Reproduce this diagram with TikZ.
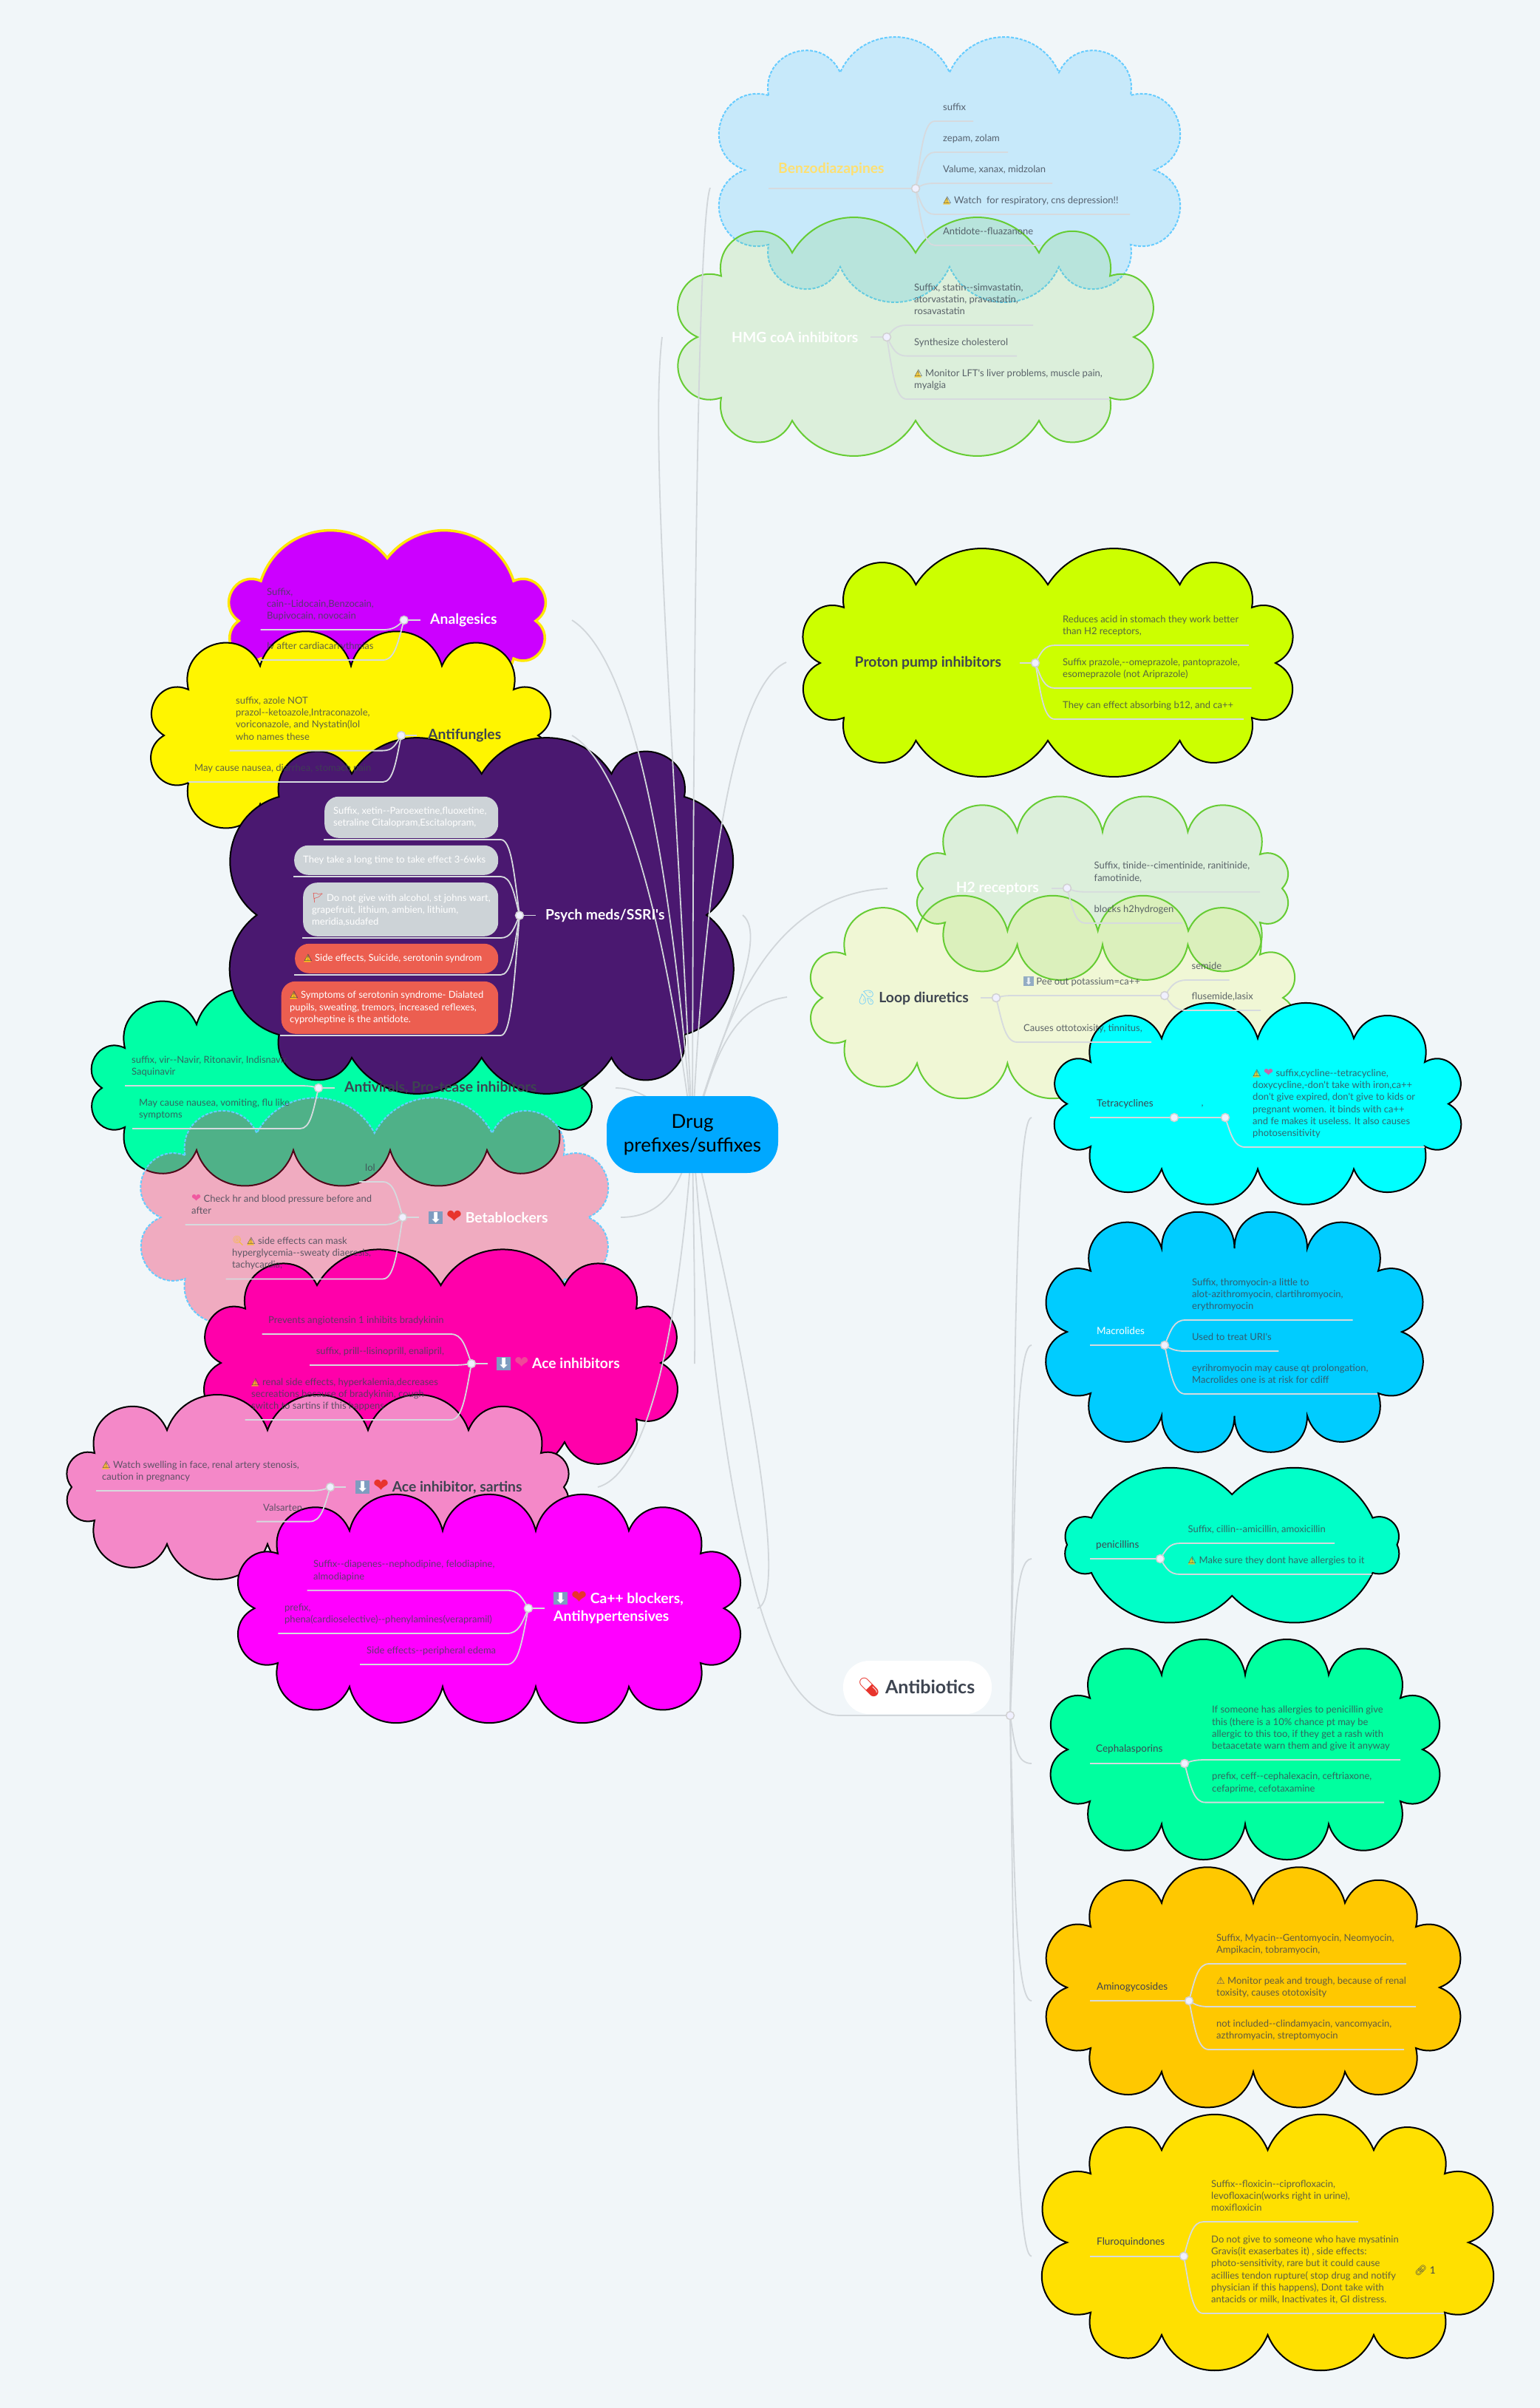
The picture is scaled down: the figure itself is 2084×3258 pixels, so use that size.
\documentclass[tikz,border=0pt]{standalone}
\usepackage{fontspec}
\usetikzlibrary{calc}
\setmainfont{Lato}
\newfontfamily\basef{Lato}
\newfontfamily\emo{Noto Emoji}
\newfontfamily\djv{DejaVu Sans}
\definecolor{bgc}{HTML}{F1F6F9}
\definecolor{dk}{HTML}{3D4450}
\definecolor{warnc}{HTML}{F9C21A}
\definecolor{heartc}{HTML}{E8342C}
\definecolor{pinkh}{HTML}{F0479A}
\definecolor{arrowc}{HTML}{7F9CC0}
\definecolor{wirec}{HTML}{D1D6DA}
\definecolor{rulec}{HTML}{D6DADE}
\definecolor{grn}{HTML}{66CC33}
\definecolor{sky}{HTML}{66CCFF}
\definecolor{cPurple}{HTML}{CC00FF}
\definecolor{cYellowEdge}{HTML}{FFE600}
\definecolor{cYellow}{HTML}{FFF500}
\definecolor{cPsych}{HTML}{4A1870}
\definecolor{cVir}{HTML}{00FFA6}
\definecolor{cBeta}{HTML}{F0154C}
\definecolor{cAce}{HTML}{FF00AA}
\definecolor{cSart}{HTML}{F488C8}
\definecolor{cCa}{HTML}{FF00FF}
\definecolor{cProton}{HTML}{CCFF00}
\definecolor{cLoop}{HTML}{F0F7D5}
\definecolor{cCyan}{HTML}{00FFFF}
\definecolor{cMacro}{HTML}{00CCFF}
\definecolor{cPen}{HTML}{00FFC8}
\definecolor{cCeph}{HTML}{00FF9F}
\definecolor{cAmino}{HTML}{FFC800}
\definecolor{cFluoro}{HTML}{FFE000}
\definecolor{cRoot}{HTML}{00A8FF}
\definecolor{cGreyBox}{HTML}{CDD3D7}
\definecolor{cRedBox}{HTML}{EC5E50}
\definecolor{cBenzoT}{HTML}{FFE070}
\newcommand\warnI{{\djv\makebox[0pt][l]{\textcolor{warnc}{▲}}\textcolor{dk}{⚠}}}
\newcommand\heartI{{\djv\fontsize{1.3em}{1em}\selectfont\textcolor{heartc}{❤}}}
\newcommand\pheartI{{\djv\fontsize{1.2em}{1em}\selectfont\textcolor{pinkh}{❤}}}
\newcommand\dnI{{\setlength{\fboxsep}{1.5pt}\colorbox{arrowc}{\djv\textcolor{white}{⬇}}}}
\newcommand\flagI{{\emo\textcolor{heartc}{🚩}}}
\newcommand\sparkI{{\djv\fontsize{1.2em}{1em}\selectfont\textcolor{pinkh}{❤}}}
\newcommand\lollyI{{\emo\textcolor{warnc}{🍭}}}
\newcommand\dropI{{\emo\textcolor{sky}{💦}}}
\newcommand\pillI{{\emo\textcolor{heartc}{💊}}}
\newcommand\linkI{{\emo 🔗}}
% one lobe of a cloud, from (#1,#2) to (#3,#4), sagitta ratio #5
\def\seg#1#2#3#4#5{.. controls ({#1+(1-4*#5*#5)/3*(#3-#1)+4/3*#5*(#4-#2)},{#2+(1-4*#5*#5)/3*(#4-#2)-4/3*#5*(#3-#1)}) and ({#3-(1-4*#5*#5)/3*(#3-#1)+4/3*#5*(#4-#2)},{#4-(1-4*#5*#5)/3*(#4-#2)-4/3*#5*(#3-#1)}) .. (#3,#4)}
\def\parsegeo#1,#2,#3,#4,#5,#6,#7,#8,#9\relax{\def\gL{#1}\def\gR{#2}\def\gT{#3}\def\gU{#4}\def\gM{#5}\def\gD{#6}\def\gB{#7}\def\gS{#8}\def\gE{#9}}
\def\parser#1,#2,#3\relax{\def\rMid{#1}\def\rEnd{#2}\def\rSide{#3}}
% four lobes (or two, when the end lobes take half the width) along top and bottom
\newcommand\cloud[3]{\parsegeo#2\relax\parser#3\relax
 \pgfmathsetmacro\cA{\gL+\gE}\pgfmathsetmacro\cC{\gR-\gE}\pgfmathsetmacro\cB{(\gL+\gR)/2}
 \pgfmathsetmacro\sL{\gL-\gS}\pgfmathsetmacro\sR{\gR+\gS}
 \begin{pgfonlayer}{clouds}
 \draw[#1] (\gL,\gU) \seg{\gL}{\gU}{\cA}{\gT}{\rEnd} \seg{\cA}{\gT}{\cB}{\gT}{\rMid} \seg{\cB}{\gT}{\cC}{\gT}{\rMid} \seg{\cC}{\gT}{\gR}{\gU}{\rEnd}
  \seg{\gR}{\gU}{\sR}{\gM}{\rSide} \seg{\sR}{\gM}{\gR}{\gD}{\rSide}
  \seg{\gR}{\gD}{\cC}{\gB}{\rEnd} \seg{\cC}{\gB}{\cB}{\gB}{\rMid} \seg{\cB}{\gB}{\cA}{\gB}{\rMid} \seg{\cA}{\gB}{\gL}{\gD}{\rEnd}
  \seg{\gL}{\gD}{\sL}{\gM}{\rSide} \seg{\sL}{\gM}{\gL}{\gU}{\rSide} -- cycle;
 \end{pgfonlayer}}
% five lobes along top and bottom
\newcommand\cloudfive[3]{\parsegeo#2\relax\parser#3\relax
 \pgfmathsetmacro\cA{\gL+\gE}\pgfmathsetmacro\cC{\gR-\gE}\pgfmathsetmacro\cB{\cA+(\cC-\cA)/3}\pgfmathsetmacro\cD{\cA+2*(\cC-\cA)/3}
 \pgfmathsetmacro\sL{\gL-\gS}\pgfmathsetmacro\sR{\gR+\gS}
 \begin{pgfonlayer}{clouds}
 \draw[#1] (\gL,\gU) \seg{\gL}{\gU}{\cA}{\gT}{\rEnd} \seg{\cA}{\gT}{\cB}{\gT}{\rMid} \seg{\cB}{\gT}{\cD}{\gT}{\rMid} \seg{\cD}{\gT}{\cC}{\gT}{\rMid} \seg{\cC}{\gT}{\gR}{\gU}{\rEnd}
  \seg{\gR}{\gU}{\sR}{\gM}{\rSide} \seg{\sR}{\gM}{\gR}{\gD}{\rSide}
  \seg{\gR}{\gD}{\cC}{\gB}{\rEnd} \seg{\cC}{\gB}{\cD}{\gB}{\rMid} \seg{\cD}{\gB}{\cB}{\gB}{\rMid} \seg{\cB}{\gB}{\cA}{\gB}{\rMid} \seg{\cA}{\gB}{\gL}{\gD}{\rEnd}
  \seg{\gL}{\gD}{\sL}{\gM}{\rSide} \seg{\sL}{\gM}{\gL}{\gU}{\rSide} -- cycle;
 \end{pgfonlayer}}
\newcommand\hub[3]{\node[hubdot] (#1) at (#2,#3) {};}
\newcommand\wire[2]{\begin{pgfonlayer}{lines}\draw[rulel] let \p1=(#1),\p2=(#2-s) in (\p1) .. controls ({\x1+.3*(\x2-\x1)},{\y1+.6*(\y2-\y1)}) and ({\x1+.45*(\x2-\x1)},\y2) .. (\p2) -- (#2-e);\end{pgfonlayer}}
% leaf: name, hub, x near hub, x far end, rule y, text x, text
\newcommand\leaf[7]{\coordinate (#1-s) at (#3,#5);\coordinate (#1-e) at (#4,#5);
 \node[leaftxt,anchor=south west] (#1) at (#6,{#5-9.5}) {#7\strut};
 \wire{#2}{#1}}
% boxed leaf: name, hub, box left, far rule end, box top, box bottom, text x, fill, text
\newcommand\boxleaf[9]{\coordinate (#1-s) at (677.5,{#6+2});\coordinate (#1-e) at (#4,{#6+2});
 \pgfmathsetmacro\bw{674-#3}\pgfmathsetmacro\bh{#6-#5}\pgfmathsetmacro\bm{(#5+#6)/2}
 \node[boxn,fill=#8,minimum width=\bw pt,minimum height=\bh pt,anchor=south west] (#1-b) at (#3,#6) {};
 \node[leaftxt,text=white,text opacity=1,anchor=west] (#1) at (#7,\bm) {#9};
 \wire{#2}{#1}}
\newcommand\ttl[6][anchor=west]{\node[#1,#2] (#3) at (#4,#5) {#6};}
\newcommand\stub[3]{\coordinate (#1-stub) at (#2,#3);\begin{pgfonlayer}{lines}\draw[rulel] (#1-stub) -- (#1);\end{pgfonlayer}}
\newcommand\rootlink[4]{\coordinate (#1) at (#4);\begin{pgfonlayer}{lines}\draw[wire] (root.center) .. controls (#2) and (#3) .. (#1);\end{pgfonlayer}}
\newcommand\trunk[2]{\coordinate (#1) at (1396,#2);\pgfmathsetmacro\ca{2321+.6*(#2-2321)}\begin{pgfonlayer}{lines}\draw[wire] (abhub.center) .. controls (1373,\ca) and (1375,#2) .. (#1);\end{pgfonlayer}}
\pgfdeclarelayer{clouds}\pgfdeclarelayer{lines}\pgfsetlayers{clouds,lines,main}
\tikzset{
 cl/.style={line width=2pt,draw=black,fill=#1},
 grc/.style={draw=grn,line width=2pt,fill=grn,fill opacity=.15},
 hubdot/.style={circle,fill=white!94!blue,draw=white!82!black,line width=1.5pt,minimum size=11pt,inner sep=0pt},
 rulel/.style={draw=rulec,line width=1.8pt},
 wire/.style={draw=wirec,line width=1.8pt},
 boxn/.style={inner sep=0pt,rounded corners=19pt},
 leaftxt/.style={inner sep=0pt,align=left,text=dk,text opacity=.82,font=\basef\fontsize{13}{16.2}\selectfont},
 tb/.style={font=\basef\fontsize{19.3}{24}\selectfont\bfseries,inner sep=0pt,align=left,text=#1},
 tb/.default=dk,
 tn/.style={font=\basef\fontsize{13.5}{16}\selectfont,inner sep=0pt,text=#1},
 tn/.default=dk,
 dashc/.style={draw=sky,line width=2pt,dash pattern=on 4pt off 2pt},
}
\begin{document}
\begin{tikzpicture}[x=1pt,y=-1pt]
\begin{pgfonlayer}{clouds}\fill[bgc] (0,0) rectangle (2084,3258);\end{pgfonlayer}
\useasboundingbox (0,0) rectangle (2084,3258);
% ---- clouds, back to front
\cloud{dashc,fill=sky,fill opacity=.3}{1040,1530,98,129,230,331,361,32,97}{.324,.44,.48}
\cloud{grc}{976,1502,342,373.5,456,538,569,32,96}{.287,.44,.48}
\cloud{cl=cProton}{1142,1694,791,822,897,971,1002,32,97.4}{.274,.44,.48}
\cloudfive{draw=grn,line width=2pt,fill=cLoop}{1144,1705,1259.5,1291.6,1350,1408,1438.5,31,97}{.39,.46,.47}
\cloud{grc}{1279,1705,1125.4,1156,1202,1248,1278,30,97.6}{.415,.5,.4}
\cloud{draw=cYellowEdge,line width=3.5pt,fill=cPurple}{353,695,755,786,840,891,925,30,171}{.3,.3,.45}
\cloud{cl=cYellow}{255,695,901,933,995,1059,1088,33,97}{.38,.46,.47}
\cloudfive{cl=cVir}{169,756,1386,1418,1472,1525,1556,31,97}{.37,.46,.47}
\cloud{cl=cPsych}{377.5,926,1047,1078,1238,1400,1431,30,98.5}{.278,.44,.31}
\cloud{dashc,fill=cBeta,fill opacity=.33}{250.5,763,1533,1563,1647,1730,1761,33,97}{.3,.44,.48}
\cloud{cl=cAce}{332,861,1739,1770.6,1844,1920,1951,33,97}{.29,.44,.47}
\cloudfive{cl=cSart}{128,732,1935,1966,2012,2057,2089,31,98}{.353,.46,.37}
\cloudfive{cl=cCa}{376,948,2071,2102,2176,2250,2282,31.5,97}{.39,.46,.47}
\cloud{cl=cCyan}{1476,1928,1405,1437,1493.5,1551,1581.6,32,96}{.37,.46,.5}
\cloud{cl=cMacro}{1476,1865,1689,1719.6,1802,1885,1915.5,32,96}{.5,.5,.5}
\cloud{cl=cPen}{1477,1857.5,2022,2053.6,2090,2128,2159,33,190.25}{.3,.265,.33}
\cloud{cl=cCeph}{1475,1895,2266,2297.5,2367,2437,2468,30,97}{.425,.5,.5}
\cloud{cl=cAmino}{1476,1916,2574.6,2607,2689,2771,2803,32,96}{.39,.46,.5}
\cloud{cl=cFluoro}{1476,1955,2909,2941,3034,3128.6,3159,32,96}{.336,.46,.5}
% ---- root
\node[fill=cRoot,rounded corners=42pt,minimum width=232pt,minimum height=104pt,inner sep=0pt,align=center,text=black,font=\basef\fontsize{26}{32}\selectfont] (root) at (937,1535) {Drug\\prefixes/suffixes};
\rootlink{eBenzo}{938,900}{944,300}{961,254}
\rootlink{eHmg}{915,1050}{878,600}{896,456}
\rootlink{eAnal}{915,1250}{870,900}{774,839}
\rootlink{eFung}{905,1280}{850,1040}{774,995}
\rootlink{eProton}{950,1250}{985,930}{1064,896}
\rootlink{ePsych}{960,1430}{1045,1270}{1005,1238}
\rootlink{eHtwo}{975,1400}{1030,1210}{1201,1202}
\rootlink{eLoop}{965,1440}{985,1360}{1065,1349}
\rootlink{eVir}{900,1500}{870,1472}{833,1472}
\rootlink{eBeta}{925,1600}{900,1647}{840,1647}
\rootlink{eAce}{938,1650}{941,1750}{940,1845}
\rootlink{eSart}{925,1720}{890,1990}{809,2012}
\rootlink{eCa}{990,1750}{1075,2160}{1025,2176}
% ---- benzodiazapines
\hub{hBenzo}{1239}{255}
\coordinate (benzoRuleL) at (1040,255);
\begin{pgfonlayer}{lines}\draw[rulel] (benzoRuleL) -- (hBenzo);\end{pgfonlayer}
\ttl{tb=cBenzoT}{tBenzo}{1053}{228.6}{Benzodiazapines}
\leaf{bz1}{hBenzo}{1265}{1317}{164}{1276}{suffix}
\leaf{bz2}{hBenzo}{1265}{1364}{206}{1276}{zepam, zolam}
\leaf{bz3}{hBenzo}{1265}{1424}{248}{1276}{Valume, xanax, midzolan}
\leaf{bz4}{hBenzo}{1265}{1529}{290}{1276}{\warnI\ Watch\ \ for respiratory, cns depression!!}
\leaf{bz5}{hBenzo}{1265}{1408}{332}{1276}{Antidote--fluazanone}
% ---- HMG
\hub{hHmg}{1200}{456}\stub{hHmg}{1178}{456}
\ttl{tb=white}{tHmg}{990}{456}{HMG coA inhibitors}
\leaf{hm1}{hHmg}{1227}{1398}{440}{1237}{Suffix, statin--simvastatin,\\atorvastatin, pravastatin,\\rosavastatin}
\leaf{hm2}{hHmg}{1227}{1376}{481.6}{1237}{Synthesize cholesterol}
\leaf{hm3}{hHmg}{1227}{1502}{540}{1237}{\warnI\ Monitor LFT's liver problems, muscle pain,\\myalgia}
% ---- Proton
\hub{hProton}{1401}{897}\stub{hProton}{1380}{897}
\ttl{tb}{tProton}{1156.5}{897}{Proton pump inhibitors}
\leaf{pp1}{hProton}{1427.6}{1690}{873}{1438}{Reduces acid in stomach they work better\\than H2 receptors,}
\leaf{pp2}{hProton}{1427.6}{1693.5}{931}{1438}{Suffix prazole,--omeprazole, pantoprazole,\\esomeprazole (not Ariprazole)}
\leaf{pp3}{hProton}{1427.6}{1683}{973}{1438}{They can effect absorbing b12, and ca++}
% ---- H2
\hub{hHtwo}{1444}{1201.6}\stub{hHtwo}{1422.5}{1201.6}
\ttl{tb=white}{tHtwo}{1293.6}{1201.6}{H2 receptors}
\leaf{h21}{hHtwo}{1469}{1705}{1206.7}{1480.5}{Suffix, tinide--cimentinide, ranitinide,\\famotinide,}
\leaf{h22}{hHtwo}{1469}{1600}{1249}{1480.5}{blocks h2hydrogen}
% ---- Loop
\hub{hLoop}{1348}{1350}\stub{hLoop}{1327}{1350}
\hub{hLoopB}{1576}{1347}
\ttl{tb}{tLoop}{1160}{1350}{\dropI\ Loop diuretics}
\leaf{lp1}{hLoop}{1370}{1576}{1347}{1385}{\dnI\ Pee out potassium=ca++}
\leaf{lp2}{hLoop}{1376.6}{1558}{1410}{1385}{Causes ottotoxisity, tinnitus,}
\leaf{lb1}{hLoopB}{1606}{1663.5}{1326}{1612.5}{semide}
\leaf{lb2}{hLoopB}{1606}{1706}{1367}{1612.5}{flusemide,lasix}
% ---- Analgesics
\hub{hAnal}{546.7}{839}\stub{hAnal}{568.6}{839}
\ttl{tb=white}{tAnal}{582}{839}{Analgesics}
\leaf{an1}{hAnal}{518}{352.6}{852}{361}{Suffix,\\cain--Lidocain,Benzocain,\\Bupivocain, novocain}
\leaf{an2}{hAnal}{518}{352.6}{893}{361}{Iv after cardiacarrythmias}
% ---- Antifungles
\hub{hFung}{543}{995}\stub{hFung}{564}{995}
\ttl{tb}{tFung}{579}{995}{Antifungles}
\leaf{fu1}{hFung}{518}{311}{1015.6}{319}{suffix, azole NOT\\prazol--ketoazole,Intraconazole,\\voriconazole, and Nystatin(lol\\who names these}
\leaf{fu2}{hFung}{518}{254.6}{1058}{263}{May cause nausea, diarrhea, stomach pain}
% ---- Psych
\hub{hPsych}{703}{1238.5}\stub{hPsych}{725}{1238.5}
\ttl{tb=white}{tPsych}{738}{1238.5}{Psych meds/SSRI's}
\boxleaf{ps1}{hPsych}{439}{438}{1078}{1134}{451}{cGreyBox}{Suffix, xetin--Paroexetine,fluoxetine,\\setraline Citalopram,Escitalopram,}
\boxleaf{ps2}{hPsych}{398}{397}{1144}{1184}{410}{cGreyBox}{They take a long time to take effect 3-6wks}
\boxleaf{ps3}{hPsych}{410}{409}{1194.4}{1267}{422}{cGreyBox}{\flagI\ Do not give with alcohol, st johns wart,\\grapefruit, lithium, ambien, lithium,\\meridia,sudafed}
\boxleaf{ps4}{hPsych}{399}{398}{1277}{1317}{411}{cRedBox}{\warnI\ Side effects, Suicide, serotonin syndrom}
\boxleaf{ps5}{hPsych}{380.5}{379}{1328}{1399}{392}{cRedBox}{\warnI\ Symptoms of serotonin syndrome- Dialated\\pupils, sweating, tremors, increased reflexes,\\cyproheptine is the antidote.}
% ---- Antivirals
\hub{hVir}{431}{1472}\stub{hVir}{453}{1472}
\ttl{tb}{tVir}{466}{1472}{Antivirals, Pro-tease inhibitors}
\leaf{vi1}{hVir}{406}{169}{1469}{178}{suffix, vir--Navir, Ritonavir, Indisnavir,\\Saquinavir}
\leaf{vi2}{hVir}{406}{179}{1527}{188}{May cause nausea, vomiting, flu like\\symptoms}
% ---- Betablockers
\hub{hBeta}{545}{1647}\stub{hBeta}{567}{1647}
\ttl{tb=white}{tBeta}{580}{1647}{\dnI\ \heartI\ Betablockers}
\leaf{be1}{hBeta}{518}{486}{1599}{494}{lol}
\leaf{be2}{hBeta}{518}{250.5}{1657}{259}{\sparkI\ Check hr and blood pressure before and\\after}
\leaf{be3}{hBeta}{518}{305.6}{1730.4}{314}{\lollyI\ \warnI\ side effects can mask\\hyperglycemia--sweaty diaeresis,\\tachycardia,}
% ---- Ace
\hub{hAce}{638}{1845}\stub{hAce}{660}{1845}
\ttl{tb=white}{tAce}{672}{1845}{\dnI\ \pheartI\ Ace inhibitors}
\leaf{ac1}{hAce}{610}{354.6}{1805}{363}{Prevents angiotensin 1 inhibits bradykinin}
\leaf{ac2}{hAce}{610}{419}{1847}{427.6}{suffix, prill--lisinoprill, enalipril,}
\leaf{ac3}{hAce}{610}{331.6}{1921}{340}{\warnI\ renal side effects, hyperkalemia,decreases\\secreations because of bradykinin, cough\\switch to sartins if this happens}
% ---- Sartins
\hub{hSart}{447}{2012}\stub{hSart}{468}{2012}
\ttl{tb}{tSart}{481}{2012}{\dnI\ \heartI\ Ace inhibitor, sartins}
\leaf{sa1}{hSart}{419}{130}{2017}{138}{\warnI\ Watch swelling in face, renal artery stenosis,\\caution in pregnancy}
\leaf{sa2}{hSart}{419}{347}{2058.6}{356}{Valsarten}
% ---- Ca++
\hub{hCa}{715}{2176}\stub{hCa}{736.5}{2176}
\ttl{tb=white}{tCa}{749}{2175}{\dnI\ \heartI\ Ca++ blockers,\\Antihypertensives}
\leaf{ca1}{hCa}{686}{415.6}{2151.7}{424}{Suffix--diapenes--nephodipine, felodiapine,\\almodiapine}
\leaf{ca2}{hCa}{686}{376.4}{2210}{385}{prefix,\\phena(cardioselective)--phenylamines(verapramil)}
\leaf{ca3}{hCa}{686}{487}{2252}{496}{Side effects--peripheral edema}
% ---- Antibiotics
\node[fill=white,rounded corners=35pt,minimum width=201pt,minimum height=72pt,inner sep=0pt] (abbox) at (1241.5,2283) {};
\node[inner sep=0pt,anchor=west,text=dk,font=\basef\fontsize{25}{28}\selectfont\bfseries] (tAb) at (1160,2283) {\pillI\ Antibiotics};
\node[hubdot] (abhub) at (1367,2321) {};
\begin{pgfonlayer}{lines}\draw[wire] (root.center) .. controls (970,1950) and (1020,2321) .. (1137,2321) -- (abhub.center);\end{pgfonlayer}
\trunk{eTet}{1512}\trunk{eMac}{1820}\trunk{ePen}{2109}\trunk{eCeph}{2386}\trunk{eAmi}{2707}\trunk{eFlu}{3052.6}
% ---- Tetracyclines
\hub{hTet}{1589}{1512}\hub{hTetB}{1658}{1512}
\ttl{tn}{tTet}{1484}{1493.5}{Tetracyclines}
\coordinate (tetRuleL) at (1475,1512);
\begin{pgfonlayer}{lines}\draw[rulel] (tetRuleL) -- (hTet) -- (hTetB);\end{pgfonlayer}
\node[leaftxt,anchor=center] (tComma) at (1627,1497) {,};
\leaf{te1}{hTetB}{1685}{1928}{1552}{1695}{\warnI\ \pheartI\ suffix,cycline--tetracycline,\\doxycycline,-don't take with iron,ca++\\don't give expired, don't give to kids or\\pregnant women. it binds with ca++\\and fe makes it useless. It also causes\\photosensitivity}
% ---- Macrolides
\hub{hMac}{1576}{1820}
\ttl{tn=white}{tMac}{1484}{1801}{Macrolides}
\coordinate (macRuleL) at (1475,1820);
\begin{pgfonlayer}{lines}\draw[rulel] (macRuleL) -- (hMac);\end{pgfonlayer}
\leaf{ma1}{hMac}{1604}{1830.6}{1786}{1613}{Suffix, thromyocin-a little to\\alot-azithromyocin, clartihromyocin,\\erythromyocin}
\leaf{ma2}{hMac}{1604}{1730.4}{1828}{1613}{Used to treat URI's}
\leaf{ma3}{hMac}{1604}{1864}{1886}{1613}{eyrihromyocin may cause qt prolongation,\\Macrolides one is at risk for cdiff}
% ---- Penicillins
\hub{hPen}{1570}{2109}
\ttl{tn}{tPen}{1483}{2091}{penicillins}
\coordinate (penRuleL) at (1475,2109);
\begin{pgfonlayer}{lines}\draw[rulel] (penRuleL) -- (hPen);\end{pgfonlayer}
\leaf{pe1}{hPen}{1597}{1806}{2088}{1607.5}{Suffix, cillin--amicillin, amoxicillin}
\leaf{pe2}{hPen}{1597}{1856}{2130}{1607.5}{\warnI\ Make sure they dont have allergies to it}
% ---- Cephalasporins
\hub{hCeph}{1603}{2386}
\ttl{tn}{tCeph}{1483}{2367}{Cephalasporins}
\coordinate (cephRuleL) at (1475,2386);
\begin{pgfonlayer}{lines}\draw[rulel] (cephRuleL) -- (hCeph);\end{pgfonlayer}
\leaf{ce1}{hCeph}{1631}{1895}{2381}{1640}{If someone has allergies to penicillin give\\this (there is a 10\% chance pt may be\\allergic to this too, if they get a rash with\\betaacetate warn them and give it anyway}
\leaf{ce2}{hCeph}{1631}{1873}{2438.6}{1640}{prefix, ceff--cephalexacin, ceftriaxone,\\cefaprime, cefotaxamine}
% ---- Aminogycosides
\hub{hAmi}{1609}{2707}
\ttl{tn}{tAmi}{1484}{2689}{Aminogycosides}
\coordinate (amiRuleL) at (1475,2707);
\begin{pgfonlayer}{lines}\draw[rulel] (amiRuleL) -- (hAmi);\end{pgfonlayer}
\leaf{am1}{hAmi}{1636}{1903}{2657}{1646}{Suffix, Myacin--Gentomyocin, Neomyocin,\\Ampikacin, tobramyocin,}
\leaf{am2}{hAmi}{1636}{1916}{2715}{1646}{\warnI\ Monitor peak and trough, because of renal\\toxisity, causes ototoxisity}
\leaf{am3}{hAmi}{1636}{1900}{2773}{1646}{not included--clindamyacin, vancomyacin,\\azthromyacin, streptomyocin}
% ---- Fluroquindones
\hub{hFlu}{1602}{3052.6}
\ttl{tn}{tFlu}{1484}{3034}{Fluroquindones}
\coordinate (fluRuleL) at (1475,3052.6);
\begin{pgfonlayer}{lines}\draw[rulel] (fluRuleL) -- (hFlu);\end{pgfonlayer}
\leaf{fl1}{hFlu}{1628.5}{1838}{3006}{1639}{Suffix--floxicin--ciprofloxacin,\\levofloxacin(works right in urine),\\moxifloxicin}
\leaf{fl2}{hFlu}{1628.5}{1954}{3130}{1639}{Do not give to someone who have mysatinin\\Gravis(it exaserbates it) , side effects:\\photo-sensitivity, rare but it could cause\\acillies tendon rupture( stop drug and notify\\physician if this happens), Dont take with\\antacids or milk, Inactivates it, GI distress.}
\ttl{tn}{tLink}{1914}{3072}{\linkI\ 1}
\end{tikzpicture}
\end{document}
